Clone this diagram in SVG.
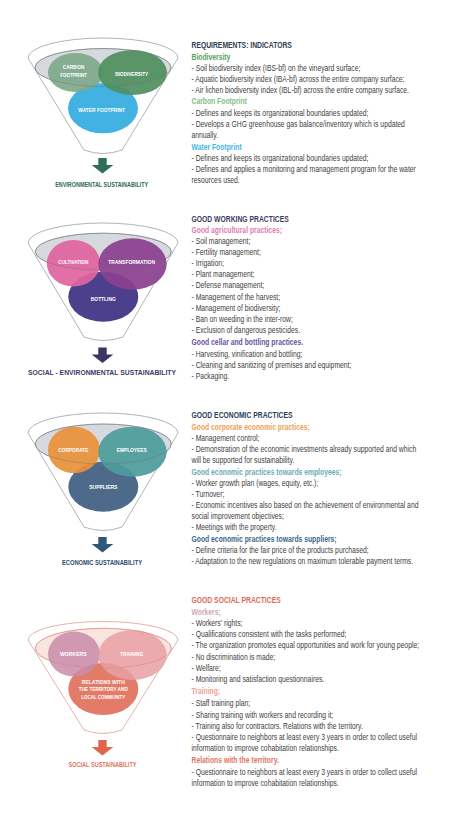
<svg xmlns="http://www.w3.org/2000/svg" width="474" height="835" viewBox="0 0 474 835">
<style>
.bg{fill:#fff}
.funnel{fill:#fff;stroke:#9ca1a6;stroke-width:0.8}
.rim{fill:#d6d9dd;stroke:#8f949a;stroke-width:0.8}
.rimline{fill:none;stroke:#70767c;stroke-width:0.6;opacity:0.6}
.ct{font-family:"Liberation Sans",Arial,sans-serif;font-weight:bold;font-size:6.2px;fill:#fff;text-anchor:middle}
.lbl{font-family:"Liberation Sans",Arial,sans-serif;font-weight:bold;font-size:6.4px;text-anchor:middle}
.body{font-family:"Liberation Sans",Arial,sans-serif;font-size:8.7px;fill:#404040}
.b{font-weight:bold}
</style>
<rect class="bg" width="474" height="835"/>

<!-- Funnel 1: environmental -->
<g id="funnel-environmental">
  <path class="funnel" d="M28,58 A75,20 0 0 1 178,58 L122,150 Q103,157 84,150 Z"/>
  <ellipse class="rim" cx="103" cy="67.5" rx="68" ry="19"/>
  <ellipse cx="103" cy="108.3" rx="35" ry="25" fill="#42b2e3"/>
  <ellipse cx="75.5" cy="72.5" rx="27.5" ry="19.5" fill="#7ea98a" opacity="0.92"/>
  <ellipse cx="132.5" cy="72.5" rx="34.5" ry="22.5" fill="#4f8f5f" opacity="0.92"/>
  <ellipse class="rimline" cx="103" cy="67.5" rx="68" ry="19"/>
  <text class="ct" x="73.5" y="68.8" textLength="21.7" lengthAdjust="spacingAndGlyphs">CARBON</text>
  <text class="ct" x="73.5" y="77.3" textLength="26.7" lengthAdjust="spacingAndGlyphs">FOOTPRINT</text>
  <text class="ct" x="131.7" y="75.5" textLength="33" lengthAdjust="spacingAndGlyphs">BIODIVERSITY</text>
  <text class="ct" x="101.7" y="112.2" textLength="46.7" lengthAdjust="spacingAndGlyphs">WATER FOOTPRINT</text>
  <text class="lbl" x="101.7" y="186.8" fill="#2e6b5b" textLength="93" lengthAdjust="spacingAndGlyphs">ENVIRONMENTAL SUSTAINABILITY</text>
</g>

<!-- Funnel 2: social-environmental -->
<g id="funnel-social-environmental">
  <path class="funnel" d="M28,243 A75,20 0 0 1 178,243 L123,337 Q103,344 84,337 Z"/>
  <ellipse class="rim" cx="103.3" cy="251.7" rx="68" ry="18.5"/>
  <ellipse cx="103.3" cy="296.7" rx="35" ry="25" fill="#4c3f8c"/>
  <ellipse cx="73.5" cy="263.3" rx="26.7" ry="23.3" fill="#e0649f" opacity="0.93"/>
  <ellipse cx="132.5" cy="264" rx="34.2" ry="25.8" fill="#8c3f8f" opacity="0.93"/>
  <ellipse class="rimline" cx="103.3" cy="251.7" rx="68" ry="18.5"/>
  <text class="ct" x="73.3" y="264" textLength="30" lengthAdjust="spacingAndGlyphs">CULTIVATION</text>
  <text class="ct" x="131.7" y="264" textLength="46.7" lengthAdjust="spacingAndGlyphs">TRANSFORMATION</text>
  <text class="ct" x="103.3" y="300.5" textLength="25" lengthAdjust="spacingAndGlyphs">BOTTLING</text>
  <text class="lbl" x="102" y="374.5" fill="#3c3a66" textLength="148" lengthAdjust="spacingAndGlyphs">SOCIAL - ENVIRONMENTAL SUSTAINABILITY</text>
</g>

<!-- Funnel 3: economic -->
<g id="funnel-economic">
  <path class="funnel" d="M28,433 A75,20 0 0 1 178,433 L122,527 Q103,534 84,527 Z"/>
  <ellipse class="rim" cx="103.3" cy="444" rx="68" ry="20"/>
  <ellipse cx="103.3" cy="486.7" rx="35" ry="25" fill="#4d6a8a"/>
  <ellipse cx="74" cy="450" rx="26" ry="23.3" fill="#e8913a" opacity="0.93"/>
  <ellipse cx="132.5" cy="451.7" rx="34.2" ry="25" fill="#4f9c9c" opacity="0.93"/>
  <ellipse class="rimline" cx="103.3" cy="444" rx="68" ry="20"/>
  <text class="ct" x="73.3" y="452.2" textLength="30" lengthAdjust="spacingAndGlyphs">CORPORATE</text>
  <text class="ct" x="131.7" y="452.2" textLength="30" lengthAdjust="spacingAndGlyphs">EMPLOYEES</text>
  <text class="ct" x="103.3" y="489" textLength="28" lengthAdjust="spacingAndGlyphs">SUPPLIERS</text>
  <text class="lbl" x="102" y="564.5" fill="#2e4a6a" textLength="80" lengthAdjust="spacingAndGlyphs">ECONOMIC SUSTAINABILITY</text>
</g>

<!-- Funnel 4: social -->
<g id="funnel-social">
  <path d="M28,640 A75,18.5 0 0 1 178,640 L122,730 Q103,737 84,730 Z" fill="#fff" stroke="#e3a092" stroke-width="0.8"/>
  <ellipse cx="103.3" cy="648.3" rx="68" ry="20" fill="#f8e5e0" stroke="#e3a092" stroke-width="0.8"/>
  <ellipse cx="103.3" cy="689" rx="35" ry="26" fill="#e27b68"/>
  <ellipse cx="74" cy="654" rx="26" ry="22.5" fill="#c98ca8" opacity="0.85"/>
  <ellipse cx="132.5" cy="655" rx="34.2" ry="25" fill="#e8a0a5" opacity="0.85"/>
  <ellipse cx="103.3" cy="648.3" rx="68" ry="20" fill="none" stroke="#d88a80" stroke-width="0.6" opacity="0.7"/>
  <text class="ct" x="73.3" y="655.5" textLength="26.7" lengthAdjust="spacingAndGlyphs">WORKERS</text>
  <text class="ct" x="131.7" y="655.5" textLength="23.3" lengthAdjust="spacingAndGlyphs">TRAINING</text>
  <text class="ct" x="103.3" y="683.9" textLength="43" lengthAdjust="spacingAndGlyphs">RELATIONS WITH</text>
  <text class="ct" x="103.3" y="691.3" textLength="49" lengthAdjust="spacingAndGlyphs">THE TERRITORY AND</text>
  <text class="ct" x="103.3" y="698.9" textLength="44" lengthAdjust="spacingAndGlyphs">LOCAL COMMUNITY</text>
  <text class="lbl" x="102.5" y="766.5" fill="#e07565" textLength="68" lengthAdjust="spacingAndGlyphs">SOCIAL SUSTAINABILITY</text>
</g>

<!-- Connectors: block arrows -->
<g id="connectors">
  <path d="M98.3,158 h8.4 v7 h6.6 l-10.8,8.5 l-10.8,-8.5 h6.6 z" fill="#2f6e57"/>
  <path d="M98.3,347.5 h8.4 v7 h6.6 l-10.8,8.5 l-10.8,-8.5 h6.6 z" fill="#3b3566"/>
  <path d="M98.3,537 h8.4 v7 h6.6 l-10.8,8.5 l-10.8,-8.5 h6.6 z" fill="#2e5878"/>
  <path d="M98.3,740 h8.4 v7 h6.6 l-10.8,8.5 l-10.8,-8.5 h6.6 z" fill="#e0654e"/>
</g>

<!-- Text block 1 -->
<g id="text-environmental" class="body" transform="translate(191.5 0) scale(0.78 1)">
  <text class="b" x="0" y="48" fill="#2f4050">REQUIREMENTS: INDICATORS</text>
  <text class="b" x="0" y="60" fill="#5a9f5c">Biodiversity</text>
  <text x="0" y="71">- Soil biodiversity index (IBS-bf) on the vineyard surface;</text>
  <text x="0" y="82">- Aquatic biodiversity index (IBA-bf) across the entire company surface;</text>
  <text x="0" y="93">- Air lichen biodiversity index (IBL-bf) across the entire company surface.</text>
  <text class="b" x="0" y="104.5" fill="#7cbf88">Carbon Footprint</text>
  <text x="0" y="116">- Defines and keeps its organizational boundaries updated;</text>
  <text x="0" y="127">- Develops a GHG greenhouse gas balance/inventory which is updated</text>
  <text x="0" y="138">annually.</text>
  <text class="b" x="0" y="150" fill="#44b3e6">Water Footprint</text>
  <text x="0" y="161">- Defines and keeps its organizational boundaries updated;</text>
  <text x="0" y="172.5">- Defines and applies a monitoring and management program for the water</text>
  <text x="0" y="183.5">resources used.</text>
</g>

<!-- Text block 2 -->
<g id="text-working" class="body" transform="translate(191.5 0) scale(0.78 1)">
  <text class="b" x="0" y="222" fill="#3b3b5e">GOOD WORKING PRACTICES</text>
  <text class="b" x="0" y="233.5" fill="#e07cb0">Good agricultural practices;</text>
  <text x="0" y="244.5">- Soil management;</text>
  <text x="0" y="255.5">- Fertility management;</text>
  <text x="0" y="266.5">- Irrigation;</text>
  <text x="0" y="277.5">- Plant management;</text>
  <text x="0" y="288.5">- Defense management;</text>
  <text x="0" y="300">- Management of the harvest;</text>
  <text x="0" y="311">- Management of biodiversity;</text>
  <text x="0" y="322">- Ban on weeding in the inter-row;</text>
  <text x="0" y="333">- Exclusion of dangerous pesticides.</text>
  <text class="b" x="0" y="345" fill="#6552a3">Good cellar and bottling practices.</text>
  <text x="0" y="357">- Harvesting, vinification and bottling;</text>
  <text x="0" y="368">- Cleaning and sanitizing of premises and equipment;</text>
  <text x="0" y="379.5">- Packaging.</text>
</g>

<!-- Text block 3 -->
<g id="text-economic" class="body" transform="translate(191.5 0) scale(0.78 1)">
  <text class="b" x="0" y="418.5" fill="#2b3c58">GOOD ECONOMIC PRACTICES</text>
  <text class="b" x="0" y="430" fill="#f0a050">Good corporate economic practices;</text>
  <text x="0" y="441">- Management control;</text>
  <text x="0" y="452">- Demonstration of the economic investments already supported and which</text>
  <text x="0" y="463">will be supported for sustainability.</text>
  <text class="b" x="0" y="475" fill="#6aabb2">Good economic practices towards employees;</text>
  <text x="0" y="486">- Worker growth plan (wages, equity, etc.);</text>
  <text x="0" y="497">- Turnover;</text>
  <text x="0" y="508.5">- Economic incentives also based on the achievement of environmental and</text>
  <text x="0" y="519.5">social improvement objectives;</text>
  <text x="0" y="530.5">- Meetings with the property.</text>
  <text class="b" x="0" y="542.5" fill="#3b6688">Good economic practices towards suppliers;</text>
  <text x="0" y="553.5">- Define criteria for the fair price of the products purchased;</text>
  <text x="0" y="564.5">- Adaptation to the new regulations on maximum tolerable payment terms.</text>
</g>

<!-- Text block 4 -->
<g id="text-social" class="body" transform="translate(191.5 0) scale(0.78 1)">
  <text class="b" x="0" y="603.5" fill="#e2675a">GOOD SOCIAL PRACTICES</text>
  <text class="b" x="0" y="615" fill="#d4a3b8">Workers;</text>
  <text x="0" y="626.5">- Workers' rights;</text>
  <text x="0" y="637.5">- Qualifications consistent with the tasks performed;</text>
  <text x="0" y="648.5">- The organization promotes equal opportunities and work for young people;</text>
  <text x="0" y="660">- No discrimination is made;</text>
  <text x="0" y="671">- Welfare;</text>
  <text x="0" y="682">- Monitoring and satisfaction questionnaires.</text>
  <text class="b" x="0" y="694.5" fill="#f0a095">Training;</text>
  <text x="0" y="706.5">- Staff training plan;</text>
  <text x="0" y="718">- Sharing training with workers and recording it;</text>
  <text x="0" y="729">- Training also for contractors. Relations with the territory.</text>
  <text x="0" y="740.5">- Questionnaire to neighbors at least every 3 years in order to collect useful</text>
  <text x="0" y="751.5">information to improve cohabitation relationships.</text>
  <text class="b" x="0" y="763" fill="#e07262">Relations with the territory.</text>
  <text x="0" y="775">- Questionnaire to neighbors at least every 3 years in order to collect useful</text>
  <text x="0" y="786">information to improve cohabitation relationships.</text>
</g>
</svg>
